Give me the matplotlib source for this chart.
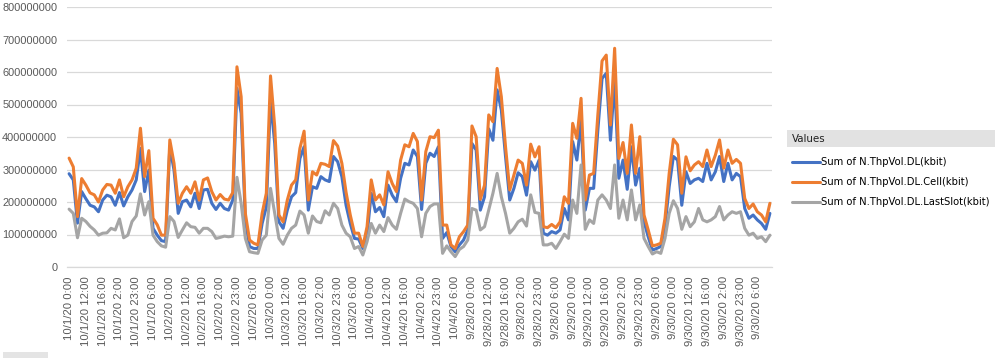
import matplotlib
matplotlib.use("Agg")
import matplotlib.pyplot as plt
from matplotlib.patches import Rectangle
from matplotlib.ticker import FuncFormatter, MultipleLocator

# ---- data ----
days = ["10/1/20", "10/2/20", "10/3/20", "10/4/20", "9/28/20", "9/29/20", "9/30/20"]
hours = ["0:00", "1:00", "10:00", "11:00", "12:00", "13:00", "14:00", "15:00", "16:00",
         "17:00", "18:00", "19:00", "2:00", "20:00", "21:00", "22:00", "23:00",
         "3:00", "4:00", "5:00", "6:00", "7:00", "8:00", "9:00"]
categories = [f"{d} {h}" for d in days for h in hours]

unit = 1e6  # values below are in millions of kbit

dl = [287, 268, 135, 232, 210, 190, 185, 170, 206, 221, 216, 190, 229, 188, 216, 237, 268, 365, 232, 298, 119, 98, 81, 78,
      370, 298, 165, 201, 206, 185, 227, 180, 237, 239, 196, 177, 196, 180, 175, 206, 550, 473, 145, 63, 57, 57, 134, 185,
      514, 380, 139, 119, 175, 216, 229, 334, 370, 175, 247, 242, 278, 268, 263, 340, 324, 278, 190, 134, 88, 86, 57, 98,
      227, 170, 183, 155, 252, 221, 201, 273, 319, 314, 360, 340, 177, 319, 350, 340, 370, 88, 106, 63, 47, 68, 83, 114,
      380, 360, 175, 216, 425, 390, 545, 483, 340, 206, 242, 290, 278, 221, 324, 298, 329, 104, 98, 109, 104, 114, 180, 145,
      386, 329, 452, 175, 242, 242, 421, 580, 596, 390, 575, 273, 329, 239, 370, 252, 304, 139, 93, 52, 57, 63, 124, 247,
      340, 329, 190, 293, 257, 268, 273, 263, 319, 268, 293, 340, 263, 319, 268, 288, 278, 180, 150, 160, 145, 134, 116, 165]

dl_cell = [335, 308, 155, 272, 252, 228, 222, 200, 237, 254, 252, 227, 268, 216, 247, 268, 304, 427, 278, 358, 150, 130, 98, 98,
           391, 319, 196, 227, 247, 227, 262, 206, 268, 274, 232, 206, 223, 209, 206, 229, 616, 524, 165, 83, 73, 68, 165, 227,
           588, 432, 160, 139, 206, 252, 268, 365, 418, 206, 293, 283, 319, 316, 309, 389, 372, 319, 230, 160, 104, 104, 63, 124,
           268, 206, 222, 191, 293, 257, 232, 329, 376, 370, 411, 386, 206, 355, 401, 398, 421, 129, 129, 68, 57, 93, 109, 129,
           434, 401, 208, 252, 468, 447, 611, 524, 370, 237, 283, 329, 319, 252, 378, 339, 370, 124, 121, 131, 121, 139, 216, 196,
           442, 396, 519, 206, 283, 288, 468, 634, 652, 437, 673, 334, 383, 288, 437, 288, 401, 160, 114, 65, 68, 73, 150, 288,
           393, 376, 227, 339, 296, 314, 324, 309, 360, 309, 344, 391, 304, 360, 319, 331, 319, 211, 180, 194, 170, 160, 139, 196]

dl_lastslot = [178, 165, 90, 150, 140, 125, 114, 98, 104, 105, 119, 114, 148, 90, 98, 140, 157, 225, 160, 201, 98, 78, 65, 61,
               155, 140, 91, 114, 136, 124, 122, 104, 119, 119, 109, 88, 91, 95, 93, 95, 276, 196, 88, 47, 44, 42, 83, 98,
               242, 165, 88, 70, 98, 119, 129, 172, 160, 104, 157, 140, 136, 173, 160, 196, 180, 129, 104, 93, 57, 63, 37, 78,
               134, 104, 129, 109, 152, 129, 116, 165, 209, 201, 196, 180, 93, 165, 186, 194, 194, 42, 65, 47, 32, 54, 63, 83,
               180, 175, 114, 124, 176, 227, 288, 216, 165, 104, 119, 139, 147, 126, 222, 168, 165, 68, 68, 73, 57, 78, 101, 88,
               206, 165, 314, 116, 145, 134, 206, 222, 206, 180, 314, 150, 206, 145, 237, 145, 191, 88, 63, 40, 47, 42, 88, 165,
               204, 180, 116, 155, 124, 139, 180, 145, 139, 145, 155, 186, 145, 160, 170, 165, 170, 119, 98, 104, 88, 93, 78, 98]

series_names = ["Sum of N.ThpVol.DL(kbit)", "Sum of N.ThpVol.DL.Cell(kbit)", "Sum of N.ThpVol.DL.LastSlot(kbit)"]
series_colors = ["#4472C4", "#ED7D31", "#A5A5A5"]

# ---- figure ----
fig = plt.figure(figsize=(9.97, 3.58), dpi=100)
ax = fig.add_axes([67 / 997, 1 - 267 / 358, 705 / 997, 260 / 358])

x = list(range(len(categories)))
handles = []
for vals, name, col in zip([dl, dl_cell, dl_lastslot], series_names, series_colors):
    ln, = ax.plot(x, [v * unit for v in vals], color=col, lw=2.2, label=name,
                  solid_joinstyle="round", solid_capstyle="round")
    handles.append(ln)

ax.set_xlim(-0.5, len(categories) - 0.5)
ax.set_ylim(0, 800e6)
ax.yaxis.set_major_locator(MultipleLocator(100e6))
ax.yaxis.set_major_formatter(FuncFormatter(lambda v, p: f"{int(round(v))}"))
ax.grid(axis="y", color="#D9D9D9", lw=0.9)
ax.set_axisbelow(True)
for s in ["top", "right", "left"]:
    ax.spines[s].set_visible(False)
ax.spines["bottom"].set_color("#D9D9D9")
ax.spines["bottom"].set_linewidth(0.9)

tick_pos = x[::4]
ax.set_xticks(tick_pos)
ax.set_xticklabels([categories[i] for i in tick_pos], rotation=90, fontsize=8.1,
                   color="#595959", family="Liberation Sans")
ax.tick_params(axis="x", length=0, pad=6.5)
ax.tick_params(axis="y", length=0, pad=7, labelsize=7.9, labelcolor="#595959")
for lab in ax.get_yticklabels():
    lab.set_family("Liberation Sans")

# legend header
fig.patches.append(Rectangle((787 / 997, 1 - 147 / 358), 208 / 997, 17 / 358,
                             transform=fig.transFigure, facecolor="#E2E2E2", edgecolor="none"))
fig.text(792 / 997, 1 - 138.5 / 358, "Values", fontsize=7.4, va="center", ha="left",
         color="#202020", family="DejaVu Sans")
fig.legend(handles=handles, labels=series_names, loc="upper left",
           bbox_to_anchor=(792 / 997, 1 - 157 / 358), frameon=False,
           handlelength=2.8, handletextpad=0.1, labelspacing=1.0, borderpad=0,
           borderaxespad=0, prop={"family": "DejaVu Sans", "size": 7.2})

# small pivot button at bottom-left
fig.patches.append(Rectangle((3 / 997, 0), 45 / 997, 6 / 358, transform=fig.transFigure,
                             facecolor="#E4E4E4", edgecolor="none"))

fig.savefig("out.png", dpi=100)
